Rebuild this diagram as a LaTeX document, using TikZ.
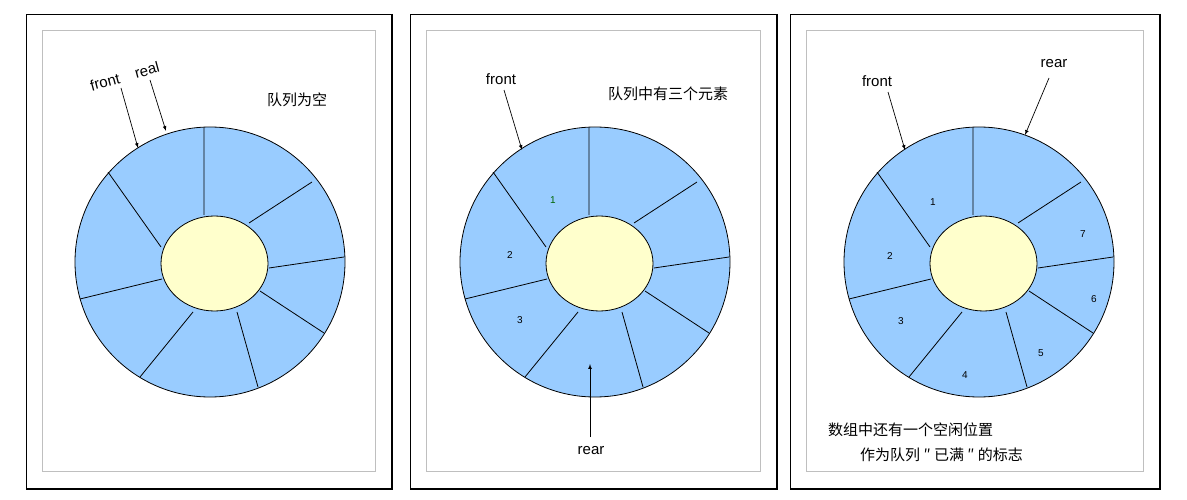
\documentclass[tikz,border=0pt]{standalone}
\usepackage{fontspec}
\setmainfont{Liberation Sans}
\newfontfamily\cjk{Noto Sans CJK SC}
\begin{document}
\begin{tikzpicture}[x=1pt,y=-1pt,
  ring/.style={draw=black,fill=blue!10!cyan!25!blue!30,line width=0.8pt},
  hole/.style={draw=black,fill=yellow!25,line width=0.8pt},
  spoke/.style={line width=0.8pt},
  ptr/.style={-latex,line width=0.7pt},
  lbl/.style={font=\fontsize{15}{15}\selectfont,inner sep=0pt},
  num/.style={font=\fontsize{10}{10}\selectfont,inner sep=0pt},
  cn/.style={font=\cjk\fontsize{15}{15}\selectfont,inner sep=0pt},
  frame/.style={draw=black,line width=0.8pt},
  inner/.style={draw=black!25,line width=0.8pt}]
\useasboundingbox (0,0) rectangle (1187,500);
\definecolor{ringc}{RGB}{153,204,255}
\definecolor{holec}{RGB}{255,255,204}
\foreach \ox/\fl/\fr in {0/26/392, 385/410/777, 769/790/1160}{
  \draw[frame] (\fl,14) rectangle (\fr,488);
  \draw[line width=2pt] (\fr,14) -- (\fr,489) -- (\fl,489);
  \draw[inner] (\fl+16,30) rectangle (\fr-17,471);
  \begin{scope}[xshift=\ox]
    \draw[ring,fill=ringc] (210,262) circle[radius=135];
    \draw[spoke] (204,128)--(204,215) (312,182)--(249,223) (344,257)--(269,268)
      (324,333)--(260,291) (258,387)--(237,312) (140,377)--(193,312)
      (80,299)--(162,279) (108,172)--(161,247);
    \draw[hole,fill=holec] (214.5,263.5) ellipse[x radius=53.5,y radius=47.5];
  \end{scope}
}
% panel 1
\node[lbl,rotate=15] (f1) at (105,82) {front};
\node[lbl,rotate=15] (r1) at (147,70) {real};
\coordinate (f1e) at (138,148); \coordinate (r1e) at (166,131);
\draw[ptr] (121,88) -- (f1e);
\draw[ptr] (150,80) -- (r1e);
\node[cn] (t1) at (297,100) {队列为空};
% panel 2
\node[lbl] (f2) at (501,79) {front};
\coordinate (f2e) at (522,150);
\draw[ptr] (504,90) -- (f2e);
\node[cn] (t2) at (668,94) {队列中有三个元素};
\node[num,text=green!40!black] (n21) at (553,200) {1};
\node[num] (n22) at (510,255) {2};
\node[num] (n23) at (520,320) {3};
\node[lbl] (r2) at (591,451) {rear};
\coordinate (r2e) at (590,364);
\draw[ptr] (590,437) -- (r2e);
% panel 3
\node[lbl] (f3) at (877,81) {front};
\coordinate (f3e) at (905,150);
\draw[ptr] (888,92) -- (f3e);
\node[lbl] (r3) at (1054,64) {rear};
\coordinate (r3e) at (1025,135);
\draw[ptr] (1049,78) -- (r3e);
\node[num] at (933,202) {1};
\node[num] at (890,256) {2};
\node[num] at (901,321) {3};
\node[num] at (965,375) {4};
\node[num] at (1041,353) {5};
\node[num] at (1094,299) {6};
\node[num] at (1083,234) {7};
\node[cn,anchor=west] (t3) at (828,430) {数组中还有一个空闲位置};
\node[cn,anchor=west] (t4) at (860,455) {作为队列 ″ 已满 ″ 的标志};
\end{tikzpicture}
\end{document}
